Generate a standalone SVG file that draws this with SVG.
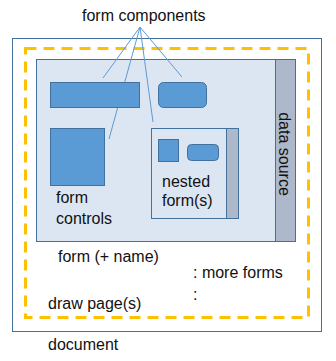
<svg xmlns="http://www.w3.org/2000/svg" width="336" height="361" viewBox="0 0 336 361">
<style>
text{font-family:"Liberation Sans",Arial,sans-serif;font-size:16px;fill:#111}
.frame{fill:#dce6f2;stroke:#41719c;stroke-width:1}
.bar{fill:#adb9ca;stroke:#41719c;stroke-width:1}
.ctl{fill:#5b9bd5;stroke:#41719c;stroke-width:1}
.conn{stroke:#5b9bd5;stroke-width:1;fill:none}
</style>
<rect width="336" height="361" fill="#fff"/>
<g id="document">
<rect x="12.5" y="38.5" width="309" height="293" fill="#fff" stroke="#41719c"/>
<text x="48" y="350">document</text>
</g>
<g id="drawpage">
<rect x="25.5" y="48.5" width="283" height="269" fill="none" stroke="#ffc000" stroke-width="3" stroke-dasharray="11 7"/>
<text x="48" y="309">draw page(s)</text>
</g>
<g id="form">
<rect class="frame" x="36.5" y="59.5" width="259" height="182"/>
<text x="58" y="262">form (+ name)</text>
</g>
<g id="datasource">
<rect class="bar" x="275.5" y="59.5" width="20" height="182"/>
<text transform="translate(279,154) rotate(90)" text-anchor="middle">data source</text>
</g>
<g id="connectors">
<line class="conn" x1="140" y1="27" x2="103" y2="78"/>
<line class="conn" x1="140" y1="27" x2="109" y2="139"/>
<line class="conn" x1="140" y1="27" x2="153" y2="122"/>
<line class="conn" x1="140" y1="27" x2="182" y2="77"/>
</g>
<g id="formcomponents">
<text x="82" y="21">form components</text>
</g>
<g id="field1"><rect class="ctl" x="50.5" y="82.5" width="89" height="25"/></g>
<g id="field2"><rect class="ctl" x="158.5" y="82.5" width="48" height="25" rx="5"/></g>
<g id="formcontrols">
<rect class="ctl" x="50.5" y="128.5" width="54" height="57"/>
<text x="56" y="203">form</text>
<text x="56" y="224">controls</text>
</g>
<g id="nestedform">
<rect class="frame" x="151.5" y="128.5" width="87" height="90"/>
<rect class="bar" x="226.5" y="128.5" width="12" height="90"/>
<rect class="ctl" x="158.5" y="139.5" width="20" height="22"/>
<rect class="ctl" x="187.5" y="144.5" width="31" height="16" rx="4"/>
<text x="162" y="187">nested</text>
<text x="162" y="206">form(s)</text>
</g>
<g id="moreforms">
<text x="193" y="278">: more forms</text>
<text x="193" y="300">:</text>
</g>
</svg>
